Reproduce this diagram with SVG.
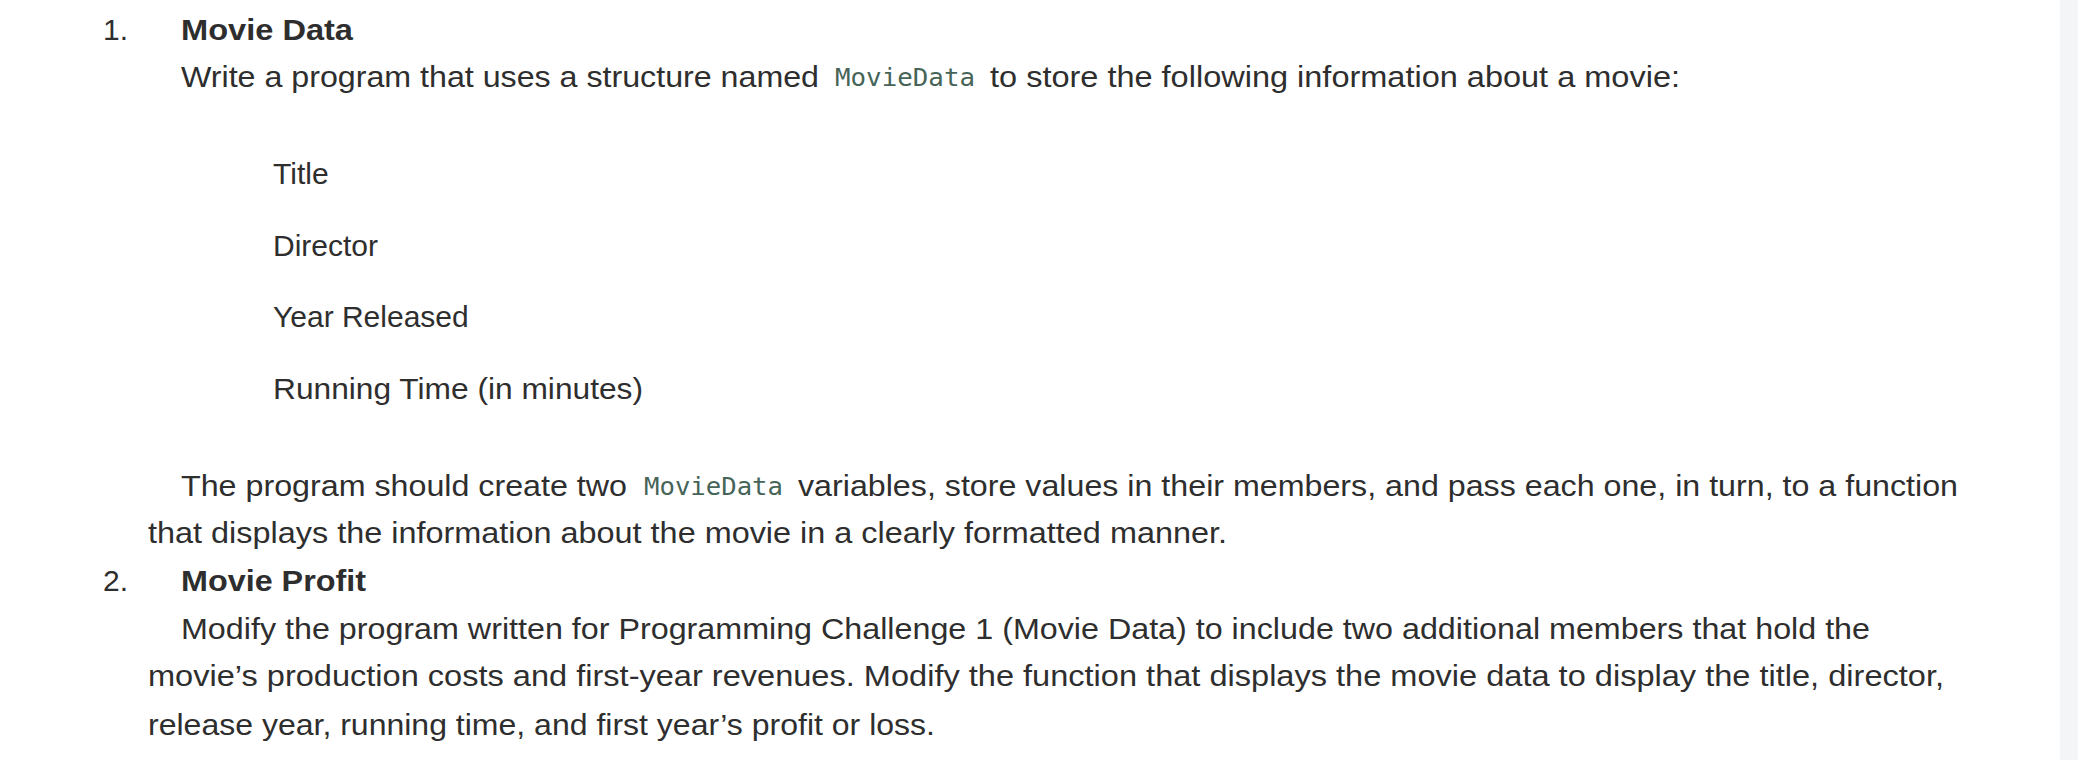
<svg xmlns="http://www.w3.org/2000/svg" width="2078" height="760" viewBox="0 0 2078 760">
<style>
.t{font-family:"Liberation Sans",Arial,sans-serif;font-size:30px;fill:#2e2e2e}
.b{font-weight:bold}
.m{font-family:"DejaVu Sans Mono","Liberation Mono",monospace;font-size:24px;fill:#466458}
</style>
<rect width="2078" height="760" fill="#fff"/>
<rect x="2060" y="0" width="18" height="760" fill="#f4f5f7"/>
<g id="item1">
<text class="t" x="103" y="40">1.</text>
<text class="t b" x="181" y="40" textLength="172" lengthAdjust="spacingAndGlyphs">Movie Data</text>
<text class="t" x="181" y="87" textLength="638" lengthAdjust="spacingAndGlyphs">Write a program that uses a structure named</text>
<text class="m" x="835" y="86" textLength="140" lengthAdjust="spacingAndGlyphs">MovieData</text>
<text class="t" x="990" y="87" textLength="690" lengthAdjust="spacingAndGlyphs">to store the following information about a movie:</text>
<text class="t" x="273" y="184">Title</text>
<text class="t" x="273" y="256">Director</text>
<text class="t" x="273" y="327">Year Released</text>
<text class="t" x="273" y="399" textLength="370" lengthAdjust="spacingAndGlyphs">Running Time (in minutes)</text>
<text class="t" x="181" y="496" textLength="446" lengthAdjust="spacingAndGlyphs">The program should create two</text>
<text class="m" x="644" y="495" textLength="139" lengthAdjust="spacingAndGlyphs">MovieData</text>
<text class="t" x="798" y="496" textLength="1160" lengthAdjust="spacingAndGlyphs">variables, store values in their members, and pass each one, in turn, to a function</text>
<text class="t" x="148" y="543" textLength="1079" lengthAdjust="spacingAndGlyphs">that displays the information about the movie in a clearly formatted manner.</text>
</g>
<g id="item2">
<text class="t" x="103" y="591">2.</text>
<text class="t b" x="181" y="591" textLength="185" lengthAdjust="spacingAndGlyphs">Movie Profit</text>
<text class="t" x="181" y="639" textLength="1689" lengthAdjust="spacingAndGlyphs">Modify the program written for Programming Challenge 1 (Movie Data) to include two additional members that hold the</text>
<text class="t" x="148" y="686" textLength="1796" lengthAdjust="spacingAndGlyphs">movie’s production costs and first-year revenues. Modify the function that displays the movie data to display the title, director,</text>
<text class="t" x="148" y="735" textLength="787" lengthAdjust="spacingAndGlyphs">release year, running time, and first year’s profit or loss.</text>
</g>
<g id="connectors"/>
</svg>
